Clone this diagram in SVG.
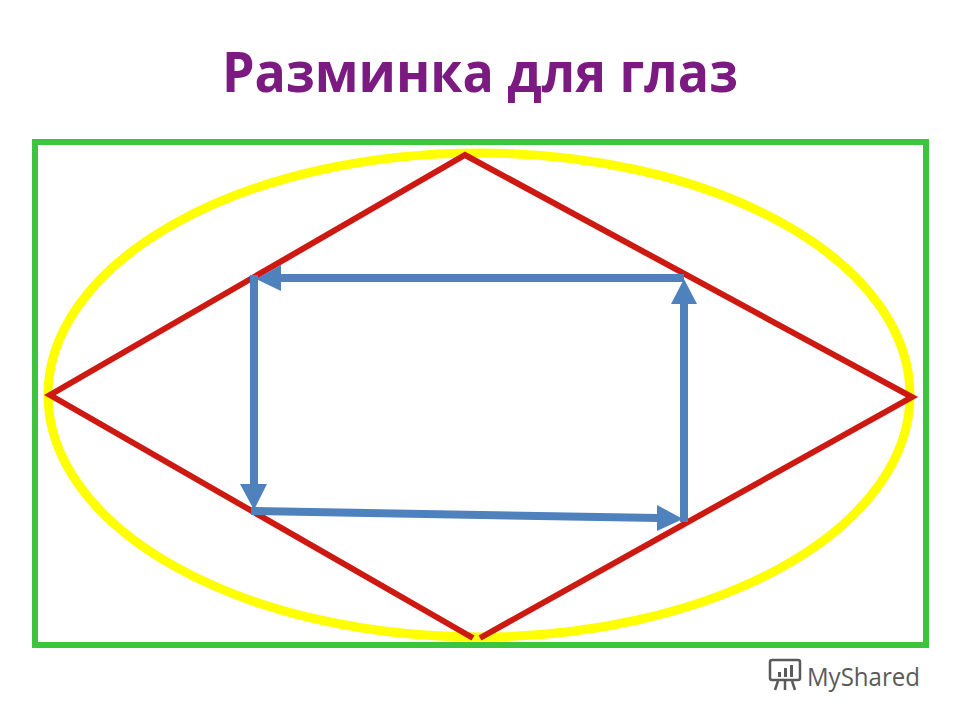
<svg xmlns="http://www.w3.org/2000/svg" width="960" height="720" viewBox="0 0 960 720">
<defs>
<style>
.title{font-family:"Open Sans","Noto Sans","Liberation Sans",sans-serif;font-weight:bold;fill:#7B1A80}
.blue{stroke:#4F81BD;stroke-width:8;fill:none}
.red{stroke:#CC1A12;stroke-width:6;fill:none;stroke-linecap:butt}
.wm{font-family:"Open Sans","Liberation Sans",sans-serif;fill:#5a5a5a}
</style>
</defs>
<rect width="960" height="720" fill="#ffffff"/>
<text class="title" x="222" y="92" font-size="56" textLength="516" lengthAdjust="spacingAndGlyphs">Разминка для глаз</text>
<g id="frame"><rect x="35" y="142" width="891" height="503" fill="none" stroke="#3CC43C" stroke-width="6"/></g>
<g id="ellipse"><ellipse cx="479" cy="395" rx="431" ry="242" fill="none" stroke="#FFFF00" stroke-width="9"/></g>
<g id="diamond">
<path class="red" d="M473,638 L50,395 L465,155 L912,397 L480,638"/>
</g>
<g id="connectors">
<line class="blue" x1="684" y1="278" x2="276" y2="278"/>
<polygon fill="#4F81BD" points="256,279 281,265 281,291"/>
<line class="blue" x1="254" y1="275" x2="254" y2="486"/>
<polygon fill="#4F81BD" points="254,510 240,484 267,484"/>
<line class="blue" x1="251" y1="511" x2="659" y2="518"/>
<polygon fill="#4F81BD" points="683,519 657,505 657,531"/>
<line class="blue" x1="684" y1="522" x2="684" y2="302"/>
<polygon fill="#4F81BD" points="684,279 671,304 697,304"/>
</g>
<g id="watermark">
<rect x="770" y="660" width="30" height="20" rx="2" fill="none" stroke="#5a5a5a" stroke-width="2.5"/>
<rect x="778" y="672" width="3" height="5" fill="#5a5a5a"/>
<rect x="784" y="668" width="3" height="9" fill="#5a5a5a"/>
<rect x="790" y="665" width="3" height="12" fill="#5a5a5a"/>
<path d="M778,681 L775,690 M785,681 L785,690 M792,681 L795,690" stroke="#5a5a5a" stroke-width="2.5"/>
<text class="wm" x="807" y="686" font-size="26" textLength="113" lengthAdjust="spacingAndGlyphs">MyShared</text>
</g>
</svg>
